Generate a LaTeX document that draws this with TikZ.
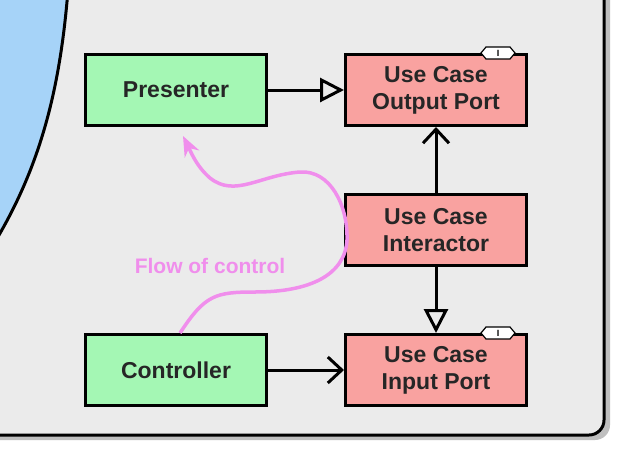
\documentclass[tikz,border=0pt]{standalone}
\usepackage{fontspec}
\setmainfont{Liberation Sans}
\usetikzlibrary{arrows.meta}
\definecolor{panel}{HTML}{EBEBEB}
\definecolor{blue}{HTML}{A6D3F8}
\definecolor{green}{HTML}{A4F7B4}
\definecolor{red}{HTML}{F9A2A0}
\definecolor{pink}{HTML}{F08EEC}
\begin{document}
\begin{tikzpicture}[x=1pt,y=-1pt,
  box/.style={draw=black,line width=3pt,minimum width=181pt,minimum height=71pt,align=center,font=\bfseries\fontsize{23}{27}\selectfont,text=black!85},
  gbox/.style={box,fill=green},
  rbox/.style={box,fill=red},
  iface/.style={fill=white,draw=black,line width=1.2pt},
  conn/.style={line width=3pt},
  tri/.style={conn,-{Triangle[open,length=24pt,width=24pt,line width=3pt]}},
  vee/.style={conn,-{Straight Barb[length=14pt,width=26pt,line width=3pt]}}]
\useasboundingbox (0,0) rectangle (626,464);
\fill[white] (0,0) rectangle (626,464);
\fill[black!25] (-10,-10) -- (610,-10) -- (610,425) arc[start angle=0,end angle=90,radius=15] -- (-10,440) -- cycle;
\draw[fill=panel,line width=3pt] (-10,-10) -- (604,-10) -- (604,420) arc[start angle=0,end angle=90,radius=15] -- (-10,435);
\fill[blue,draw=black,line width=3pt] (-10,-10) -- (68,-10) .. controls (60,90) and (40,170) .. (-10,250) -- cycle;
\node[gbox] (pres) at (176,90) {Presenter};
\node[rbox] (outp) at (436,90) {Use Case\\Output Port};
\node[rbox] (inter) at (436,230) {Use Case\\Interactor};
\node[gbox] (ctrl) at (176,370) {Controller};
\node[rbox] (inp) at (436,370) {Use Case\\Input Port};
\foreach \n/\y in {i1/53,i2/333}{
  \draw[iface] (481,\y) -- (486,\y-6) -- (510,\y-6) -- (515,\y) -- (510,\y+6) -- (486,\y+6) -- cycle;
  \node[font=\fontsize{9}{9}\selectfont\bfseries,inner sep=0pt] (\n) at (498,\y) {I};
}
\draw[tri] (pres) -- (outp);
\draw[vee] (inter) -- (outp);
\draw[tri] (inter) -- (inp);
\draw[vee] (ctrl) -- (inp);
\coordinate (fs) at (180,333);
\coordinate (fe) at (183,136);
\draw[pink,line width=3.5pt,-{Stealth[length=20pt,width=16pt]}] (fs) .. controls (205,295) and (215,292) .. (255,292)
  .. controls (310,292) and (345,275) .. (347,240)
  .. controls (348,205) and (330,170) .. (300,172)
  .. controls (260,175) and (235,198) .. (210,178)
  .. controls (196,166) and (190,150) .. (fe);
\node[text=pink,font=\bfseries\fontsize{21}{22}\selectfont] (flow) at (210,266) {Flow of control};
\end{tikzpicture}
\end{document}
